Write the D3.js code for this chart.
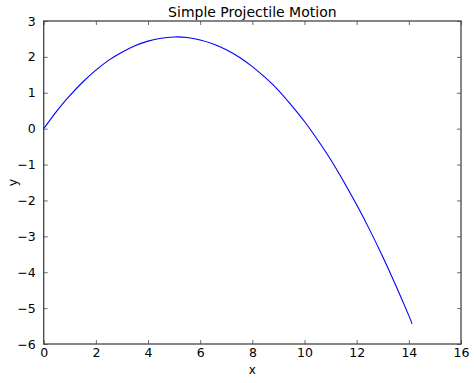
<!DOCTYPE html>
<html>
<head>
<meta charset="utf-8">
<script src="https://cdn.jsdelivr.net/npm/d3@7"></script>
<style>
  body { margin: 0; background: #fff; }
  svg text { font-family: "DejaVu Sans", sans-serif; fill: #000; }
</style>
</head>
<body>
<div id="chart"></div>
<script>
// values
const xs = [0, 0.5, 1, 1.5, 2, 2.5, 3, 3.5, 4, 4.5, 5, 5.5, 6, 6.5, 7, 7.5, 8, 8.5, 9, 9.5, 10, 10.5, 11, 11.5, 12, 12.5, 13, 13.5, 14, 14.12];
const ys = [0, 0.49, 0.92, 1.30, 1.63, 1.91, 2.13, 2.31, 2.44, 2.52, 2.555, 2.54, 2.47, 2.36, 2.20, 1.99, 1.73, 1.42, 1.07, 0.65, 0.20, -0.31, -0.86, -1.47, -2.12, -2.82, -3.57, -4.37, -5.21, -5.44];
const xTicks = [0, 2, 4, 6, 8, 10, 12, 14, 16];
const yTicks = [3, 2, 1, 0, -1, -2, -3, -4, -5, -6];

const W = 474, H = 383;
const m = {left: 43.7, right: 13, top: 21, bottom: 39};

const svg = d3.select('#chart').append('svg')
  .attr('width', W)
  .attr('height', H);

const x = d3.scaleLinear().domain([0, 16]).range([m.left, W - m.right]);
const y = d3.scaleLinear().domain([-6, 3]).range([H - m.bottom, m.top]);

const fmt = d => d < 0 ? '\u2212' + Math.abs(d) : String(d);

// inward ticks on all four sides, matplotlib classic look
svg.append('g')
  .attr('transform', `translate(0,${H - m.bottom})`)
  .call(d3.axisBottom(x).tickValues(xTicks).tickSize(-4).tickPadding(4).tickFormat(fmt))
  .call(g => g.select('.domain').remove());
svg.append('g')
  .attr('transform', `translate(0,${m.top})`)
  .call(d3.axisTop(x).tickValues(xTicks).tickSize(-4).tickFormat(''))
  .call(g => g.select('.domain').remove());
svg.append('g')
  .attr('transform', `translate(${m.left},0)`)
  .call(d3.axisLeft(y).tickValues(yTicks).tickSize(-4).tickPadding(8).tickFormat(fmt))
  .call(g => g.select('.domain').remove());
svg.append('g')
  .attr('transform', `translate(${W - m.right},0)`)
  .call(d3.axisRight(y).tickValues(yTicks).tickSize(-4).tickFormat(''))
  .call(g => g.select('.domain').remove());

svg.selectAll('.tick line').attr('stroke', '#444').attr('stroke-width', 0.8);
svg.selectAll('.tick text').style('font-size', '12.5px').attr('fill', '#000');

svg.append('rect')
  .attr('x', x(0)).attr('y', y(3))
  .attr('width', x(16) - x(0)).attr('height', y(-6) - y(3))
  .attr('fill', 'none')
  .attr('stroke', '#444')
  .attr('stroke-width', 1.3);

const line = d3.line()
  .x((d, i) => x(xs[i]))
  .y(d => y(d))
  .curve(d3.curveNatural);

svg.append('path')
  .datum(ys)
  .attr('fill', 'none')
  .attr('stroke', '#0000ff')
  .attr('stroke-width', 1.1)
  .attr('d', line);

svg.append('text')
  .attr('x', (x(0) + x(16)) / 2)
  .attr('y', 17)
  .attr('text-anchor', 'middle')
  .style('font-size', '14px')
  .text('Simple Projectile Motion');

svg.append('text')
  .attr('x', (x(0) + x(16)) / 2)
  .attr('y', 374)
  .attr('text-anchor', 'middle')
  .style('font-size', '12px')
  .text('x');

svg.append('text')
  .attr('transform', `translate(17,${(y(3) + y(-6)) / 2}) rotate(-90)`)
  .attr('text-anchor', 'middle')
  .style('font-size', '12.5px')
  .text('y');
</script>
</body>
</html>
